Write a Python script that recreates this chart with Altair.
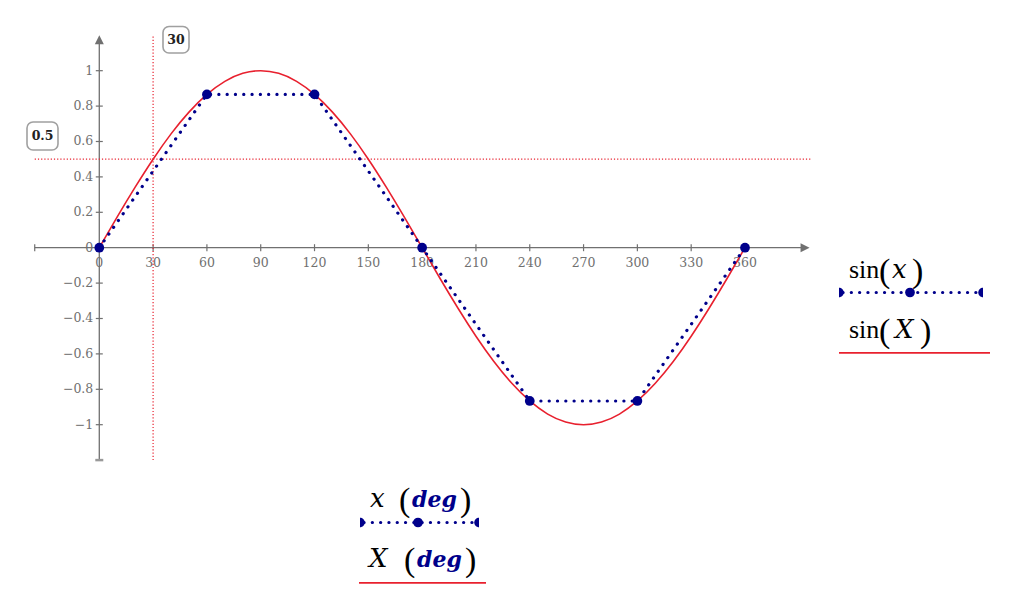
import altair as alt
import pandas as pd

# ---------------- data ----------------
X_deg = [0, 10, 20, 30, 40, 50, 60, 70, 80, 90, 100, 110, 120, 130, 140, 150, 160, 170, 180,
         190, 200, 210, 220, 230, 240, 250, 260, 270, 280, 290, 300, 310, 320, 330, 340, 350, 360]
sin_X = [0, 0.174, 0.342, 0.5, 0.643, 0.766, 0.866, 0.94, 0.985, 1.0, 0.985, 0.94, 0.866, 0.766, 0.643, 0.5,
         0.342, 0.174, 0, -0.174, -0.342, -0.5, -0.643, -0.766, -0.866, -0.94, -0.985, -1.0, -0.985, -0.94,
         -0.866, -0.766, -0.643, -0.5, -0.342, -0.174, 0]
x_deg = [0, 60, 120, 180, 240, 300, 360]
sin_x = [0, 0.866, 0.866, 0, -0.866, -0.866, 0]

x_ticks = [0, 30, 60, 90, 120, 150, 180, 210, 240, 270, 300, 330, 360]
x_tick_labels = ["0", "30", "60", "90", "120", "150", "180", "210", "240", "270", "300", "330", "360"]
y_ticks = [1, 0.8, 0.6, 0.4, 0.2, 0, -0.2, -0.4, -0.6, -0.8, -1]
y_tick_labels = ["1", "0.8", "0.6", "0.4", "0.2", "0", "\u22120.2", "\u22120.4", "\u22120.6", "\u22120.8", "\u22121"]

x_axis_range = [-36, 396]
y_axis_range = [-1.2, 1.2]
marker_x = 30
marker_y = 0.5

# ---------------- styling ----------------
BLUE = "#00008B"
RED = "#E8202E"
GRAY = "#707070"
SERIF = "Liberation Serif"
MATH = "DejaVu Serif"
TICKFONT = "DejaVu Serif"

W, H = 1004, 584
xs = alt.Scale(domain=[-50.90, 508.87], nice=False, zero=False)
ys = alt.Scale(domain=[-1.9452, 1.3542], nice=False, zero=False)

def X(f="x"):
    return alt.X(f"{f}:Q", scale=xs, axis=None)

def Y(f="y"):
    return alt.Y(f"{f}:Q", scale=ys, axis=None)

one = pd.DataFrame({"a": [0]})

curve = pd.DataFrame({"x": X_deg, "y": sin_X})
pts = pd.DataFrame({"x": x_deg, "y": sin_x})

layers = []

# axes lines
xaxis_df = pd.DataFrame({"x": [x_axis_range[0]], "x2": [x_axis_range[1] - 4], "y": [0]})
layers.append(alt.Chart(xaxis_df).mark_rule(color=GRAY, strokeWidth=1.3).encode(
    x=X("x"), x2="x2:Q", y=Y("y")))
yaxis_df = pd.DataFrame({"x": [0], "y": [y_axis_range[0]], "y2": [y_axis_range[1] - 0.03]})
layers.append(alt.Chart(yaxis_df).mark_rule(color=GRAY, strokeWidth=1.3).encode(
    x=X("x"), y=Y("y"), y2="y2:Q"))

# arrow heads
layers.append(alt.Chart(pd.DataFrame({"x": [x_axis_range[1]], "y": [0]})).mark_point(
    shape="M0,0L-2,-1L-2,1Z", size=81, filled=True, color=GRAY, opacity=1).encode(x=X("x"), y=Y("y")))
layers.append(alt.Chart(pd.DataFrame({"x": [0], "y": [y_axis_range[1]]})).mark_point(
    shape="M0,0L1,2L-1,2Z", size=81, filled=True, color=GRAY, opacity=1).encode(x=X("x"), y=Y("y")))

# ticks
xt = pd.DataFrame({"x": x_ticks + [x_axis_range[0]], "y": [0] * (len(x_ticks) + 1)})
layers.append(alt.Chart(xt).mark_rule(color=GRAY, strokeWidth=1.2, yOffset=-3.5, y2Offset=3.5).encode(
    x=X("x"), y=Y("y"), y2="y:Q"))
yt = pd.DataFrame({"y": y_ticks, "x": [0] * len(y_ticks)})
layers.append(alt.Chart(yt).mark_rule(color=GRAY, strokeWidth=1.2, xOffset=-3.5, x2Offset=3.5).encode(
    x=X("x"), x2="x:Q", y=Y("y")))
layers.append(alt.Chart(pd.DataFrame({"x": [0], "y": [y_axis_range[0]]})).mark_rule(
    color="#999999", strokeWidth=2.5, xOffset=-4, x2Offset=4).encode(x=X("x"), x2="x:Q", y=Y("y")))

# tick labels
xl = pd.DataFrame({"x": x_ticks, "y": [0] * len(x_ticks), "t": x_tick_labels})
layers.append(alt.Chart(xl).mark_text(font=TICKFONT, fontSize=12.5, color=GRAY, dy=15, baseline="middle").encode(
    x=X("x"), y=Y("y"), text="t:N"))
yl = pd.DataFrame({"y": y_ticks, "x": [0] * len(y_ticks), "t": y_tick_labels})
layers.append(alt.Chart(yl).mark_text(font=TICKFONT, fontSize=12.5, color=GRAY, dx=-6, align="right",
                                      baseline="middle").encode(x=X("x"), y=Y("y"), text="t:N"))

# marker lines
layers.append(alt.Chart(pd.DataFrame({"x": [marker_x], "y": [y_axis_range[0]], "y2": [y_axis_range[1]]})).mark_rule(
    color=RED, strokeWidth=1.2, strokeDash=[1.2, 2]).encode(x=X("x"), y=Y("y"), y2="y2:Q"))
layers.append(alt.Chart(pd.DataFrame({"y": [marker_y], "x": [x_axis_range[0]], "x2": [x_axis_range[1] + 1]})).mark_rule(
    color=RED, strokeWidth=1.2, strokeDash=[1.2, 2]).encode(x=X("x"), x2="x2:Q", y=Y("y")))

# series
layers.append(alt.Chart(curve).mark_line(color=RED, strokeWidth=1.6, interpolate="natural").encode(
    x=X("x"), y=Y("y")))
layers.append(alt.Chart(pts).mark_line(color=BLUE, strokeWidth=3.2, strokeDash=[0.1, 8.2], strokeCap="round").encode(
    x=X("x"), y=Y("y")))
layers.append(alt.Chart(pts).mark_circle(color=BLUE, size=95, opacity=1).encode(x=X("x"), y=Y("y")))

# marker labels (boxes)
def box(x1, x2, y1, y2):
    return alt.Chart(one).mark_rect(fill="white", stroke="#A0A0A0", strokeWidth=1.6, cornerRadius=6).encode(
        x=alt.value(x1), x2=alt.value(x2), y=alt.value(y1), y2=alt.value(y2))

def txt(t, x, y, size, font=SERIF, style="normal", weight="normal", color="black", align="left", baseline="alphabetic"):
    return alt.Chart(one).mark_text(text=t, font=font, fontSize=size, fontStyle=style, fontWeight=weight,
                                    color=color, align=align, baseline=baseline).encode(
        x=alt.value(x), y=alt.value(y))

layers.append(box(155, 181, 18.5, 45))
layers.append(txt(str(marker_x), 168, 32, 12.5, font=TICKFONT, weight="bold", color="#222222", align="center", baseline="middle"))
layers.append(box(19, 50, 114, 142))
layers.append(txt(str(marker_y), 34.5, 128, 12.5, font=TICKFONT, weight="bold", color="#222222", align="center", baseline="middle"))

# legend-like labels (Mathcad style)
def dotted_key(x1, x2, y, xm):
    ch = [
        alt.Chart(one).mark_rule(color=BLUE, strokeWidth=3.2, strokeDash=[0.1, 8.2], strokeCap="round").encode(
            x=alt.value(x1 + 4), x2=alt.value(x2 - 4), y=alt.value(y)),
        alt.Chart(one).mark_circle(color=BLUE, size=95, opacity=1).encode(x=alt.value(xm), y=alt.value(y)),
        alt.Chart(one).mark_point(shape="M0,-1A1,1 0 0,1 0,1Z", size=90, filled=True, color=BLUE, opacity=1).encode(
            x=alt.value(x1), y=alt.value(y)),
        alt.Chart(one).mark_point(shape="M0,-1A1,1 0 0,0 0,1Z", size=90, filled=True, color=BLUE, opacity=1).encode(
            x=alt.value(x2), y=alt.value(y)),
    ]
    return ch

def red_key(x1, x2, y):
    return alt.Chart(one).mark_rule(color=RED, strokeWidth=1.8).encode(
        x=alt.value(x1), x2=alt.value(x2), y=alt.value(y))

# right: sin(x) / sin(X)
layers += [
    txt("sin", 841, 270, 26),
    txt("(", 871, 274, 34),
    txt("x", 884, 270, 26, font=MATH, style="italic"),
    txt(")", 904, 274, 34),
]
layers += dotted_key(831, 975, 284.5, 902)
layers += [
    txt("sin", 841, 330, 26),
    txt("(", 871, 334, 34),
    txt("X", 887, 330, 26, font=MATH, style="italic"),
    txt(")", 912, 334, 34),
]
layers.append(red_key(831, 982, 344.8))

# bottom: x (deg) / X (deg)
layers += [
    txt("x", 362, 499, 26, font=MATH, style="italic"),
    txt("(", 391, 503, 34),
    txt("deg", 404, 499, 22, font=MATH, style="italic", weight="bold", color=BLUE),
    txt(")", 452, 503, 34),
]
layers += dotted_key(352, 471, 514.5, 410)
layers += [
    txt("X", 361, 559, 26, font=MATH, style="italic"),
    txt("(", 396, 563, 34),
    txt("deg", 409, 559, 22, font=MATH, style="italic", weight="bold", color=BLUE),
    txt(")", 457, 563, 34),
]
layers.append(red_key(351, 478, 574.8))

chart = alt.layer(*layers).properties(
    width=W, height=H,
    autosize=alt.AutoSizeParams(type="none"),
    padding=0,
).configure_view(stroke=None)

chart.save("out.html", embed_options={"renderer": "svg", "actions": False})
